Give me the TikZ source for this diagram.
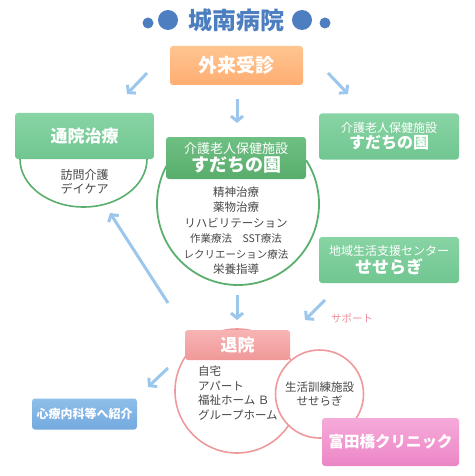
\documentclass[tikz,border=0pt]{standalone}
\usepackage{fontspec}
\setmainfont{Noto Sans CJK JP}
\usetikzlibrary{positioning,arrows.meta}

\definecolor{titleblue}{HTML}{4D7FC0}
\definecolor{flowblue}{HTML}{9CC7EC}
\definecolor{textgray}{HTML}{474747}
\definecolor{ringgreen}{HTML}{5AAF6E}
\definecolor{ringpink}{HTML}{EE9A9C}
\definecolor{supportpink}{HTML}{E98F9C}
\definecolor{orangetop}{HTML}{FFC590}
\definecolor{orangebot}{HTML}{FFAD72}
\definecolor{greentop}{HTML}{88D4A4}
\definecolor{greenbot}{HTML}{70C690}
\definecolor{dgreentop}{HTML}{6EC082}
\definecolor{dgreenbot}{HTML}{58AD6C}
\definecolor{pinktop}{HTML}{F8B4B4}
\definecolor{pinkbot}{HTML}{F09898}
\definecolor{rosetop}{HTML}{F6AADA}
\definecolor{rosebot}{HTML}{EC86C6}
\definecolor{bluetop}{HTML}{8EBEEA}
\definecolor{bluebot}{HTML}{74AADF}

\tikzset{
  box/.style={rounded corners=3pt, text=white, inner sep=0pt, align=center},
  orangebox/.style={box, top color=orangetop, bottom color=orangebot},
  greenbox/.style={box, top color=greentop, bottom color=greenbot},
  darkgreenbox/.style={box, top color=dgreentop, bottom color=dgreenbot},
  pinkbox/.style={box, top color=pinktop, bottom color=pinkbot},
  rosebox/.style={box, top color=rosetop, bottom color=rosebot},
  bluebox/.style={box, top color=bluetop, bottom color=bluebot},
  flow/.style={draw=flowblue, line width=3pt, -{Straight Barb[length=5pt,width=12pt]}},
  note/.style={text=textgray, align=center, inner sep=0pt},
}

\newcommand{\fs}[1]{\fontsize{#1}{#1}\selectfont}

\begin{document}
\begin{tikzpicture}[x=1pt,y=-1pt]
    \useasboundingbox (0,0) rectangle (474,476);

    % title with dots
    \node[text=titleblue, font=\bfseries\fs{24}] (title) at (236,20) {城南病院};
    \foreach \x/\r/\y in {148/5.5/23, 168/10/20, 302/10/20, 325/5.5/23}
      \fill[titleblue] (\x,\y) circle (\r);

    % first visit
    \node[orangebox, minimum width=133pt, minimum height=39pt, font=\bfseries\fs{19}] (gairai) at (236.5,65.5) {外来受診};

    % out-patient care
    \draw[ringgreen, line width=1.6pt, fill=white] (20,159) arc[start angle=180, end angle=0, x radius=63.5, y radius=48];
    \node[greenbox, minimum width=139pt, minimum height=46pt, font=\bfseries\fs{17}] (tsuin) at (84.5,136) {通院治療};
    \node[note, font=\fs{12}, below=10pt of tsuin] (houmon) {訪問介護\\[2pt]デイケア};

    % care facility with ring
    \begin{scope}
      \clip (140,160) rectangle (340,300);
      \draw[ringgreen, line width=1.8pt] (238,204) circle (81);
    \end{scope}
    \node[darkgreenbox, minimum width=140pt, minimum height=42pt] (sudachi) at (236,158)
      {{\fs{13}介護老人保健施設}\\[1pt]{\bfseries\fs{18}すだちの園}};
    \node[note, font=\fs{11.5}, below=7pt of sudachi] (therapy)
      {精神治療\\[4pt]薬物治療\\[4pt]リハビリテーション\\[4pt]{\fs{10.5}作業療法\quad SST療法}\\[4pt]{\fs{10.5}レクリエーション療法}\\[4pt]栄養指導};

    % right column
    \node[greenbox, minimum width=140pt, minimum height=46pt] (sudachiR) at (389,136.5)
      {{\fs{12}介護老人保健施設}\\[1pt]{\bfseries\fs{16}すだちの園}};
    \node[greenbox, minimum width=140pt, minimum height=46pt] (seseragi) at (389,260)
      {{\fs{12}地域生活支援センター}\\[1pt]{\bfseries\fs{17}せせらぎ}};
    \node[text=supportpink, font=\fs{10.5}] (support) at (352,318) {サポート};

    % discharge
    \draw[ringpink, line width=1.6pt, fill=white] (237,391) circle (62);
    \draw[ringpink, line width=1.6pt, fill=white] (319.5,394) circle (44);
    \node[pinkbox, minimum width=105pt, minimum height=30pt, font=\bfseries\fs{17}] (taiin) at (237.5,345) {退院};
    \node[note, align=left, anchor=north west, font=\fs{11.5}] (home) at (198,366)
      {自宅\\[3pt]アパート\\[3pt]福祉ホーム Ｂ\\[3pt]グループホーム};
    \node[note, font=\fs{11.5}] (kunren) at (319.5,394) {生活訓練施設\\[3pt]せせらぎ};

    % referral and clinic
    \node[bluebox, minimum width=105pt, minimum height=31pt, font=\bfseries\fs{12}] (shoukai) at (84.5,414) {心療内科等へ紹介};
    \node[rosebox, minimum width=137pt, minimum height=48pt, font=\bfseries\fs{15.5}] (clinic) at (390.5,442) {富田橋クリニック};

    % arrows
    \coordinate (a1s) at (147,73);  \coordinate (a1e) at (127,94);
    \coordinate (a2s) at (328,73);  \coordinate (a2e) at (348,94);
    \coordinate (a3s) at (237,99);  \coordinate (a3e) at (237,123);
    \coordinate (a4s) at (237,295); \coordinate (a4e) at (237,320);
    \coordinate (a5s) at (325,300); \coordinate (a5e) at (305,320);
    \coordinate (a6s) at (168,303); \coordinate (a6e) at (110,213);
    \coordinate (a7s) at (168,368); \coordinate (a7e) at (148,387);
    \foreach \n in {1,...,7}
      \draw[flow] (a\n s) -- (a\n e);

\end{tikzpicture}
\end{document}
